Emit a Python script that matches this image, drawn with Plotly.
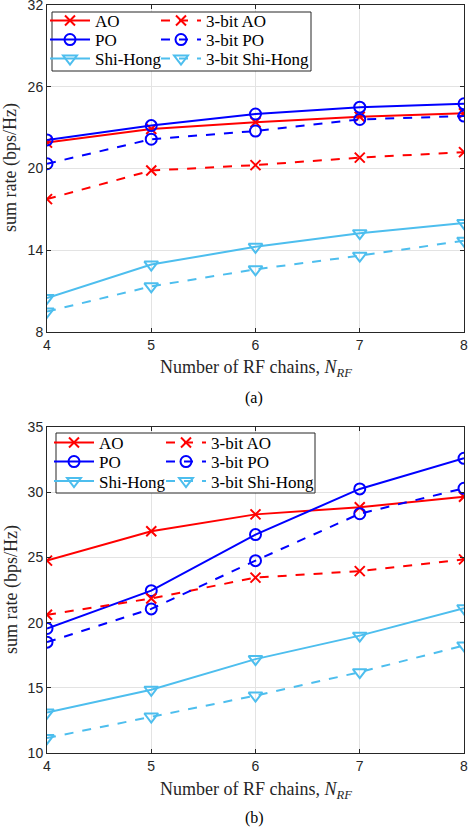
import plotly.graph_objects as go

# Data
n_rf = [4, 5, 6, 7, 8]

# (a)
ao_a = [21.9, 22.9, 23.4, 23.8, 24.05]
po_a = [22.1, 23.15, 24.0, 24.5, 24.75]
sh_a = [10.5, 12.95, 14.25, 15.25, 16.0]
ao3_a = [17.75, 19.85, 20.25, 20.8, 21.2]
po3_a = [20.35, 22.15, 22.75, 23.6, 23.85]
sh3_a = [9.5, 11.35, 12.6, 13.6, 14.7]

# (b)
ao_b = [24.75, 27.0, 28.3, 28.85, 29.65]
po_b = [19.55, 22.45, 26.75, 30.25, 32.6]
sh_b = [13.1, 14.85, 17.2, 19.0, 21.1]
ao3_b = [20.6, 21.85, 23.45, 23.95, 24.85]
po3_b = [18.5, 21.05, 24.75, 28.35, 30.3]
sh3_b = [11.15, 12.8, 14.4, 16.2, 18.25]

yticks_a = [8, 14, 20, 26, 32]
yticks_b = [10, 15, 20, 25, 30, 35]

W, H = 474, 827
RED = "#FF0000"
BLUE = "#0000FF"
CYAN = "#4DBEEE"
SERIF = "Liberation Serif, DejaVu Serif, serif"
SANS = "Liberation Sans, Arial, sans-serif"

# plot areas in pixels: (left, right, top, bottom)
box_a = (47, 464, 5, 332)
box_b = (47, 464, 427, 753)


def px_x(p):
    return p / W


def px_y(p):
    return 1 - p / H


fig = go.Figure()

series = [
    ("AO", "x-thin", RED, "solid", 10),
    ("PO", "circle-open", BLUE, "solid", 11),
    ("Shi-Hong", "triangle-down-open", CYAN, "solid", 12),
    ("3-bit AO", "x-thin", RED, "dash", 10),
    ("3-bit PO", "circle-open", BLUE, "dash", 11),
    ("3-bit Shi-Hong", "triangle-down-open", CYAN, "dash", 12),
]

panels = [
    ("x", "y", [ao_a, po_a, sh_a, ao3_a, po3_a, sh3_a], 0),
    ("x2", "y2", [ao_b, po_b, sh_b, ao3_b, po3_b, sh3_b], 6),
]

# legend rows (pixel centres) and text starts for both columns
leg_rows = {0: [21, 40, 59], 6: [443, 462, 481.5]}
leg_cols = {0: [97, 208], 6: [101, 213]}
ITEMW = 40

leg_layout = {}
for xa, ya, data, off in panels:
    for i, ((name, sym, col, dash, size), vals) in enumerate(zip(series, data)):
        k = off + i + 1
        lname = "legend" if k == 1 else "legend%d" % k
        fig.add_trace(go.Scatter(
            x=n_rf, y=vals, name=name, mode="lines+markers",
            xaxis=xa, yaxis=ya, legend=lname,
            line=dict(color=col, width=2, dash=dash),
            marker=dict(symbol=sym, size=size, color=col,
                        line=dict(color=col, width=2)),
        ))
        row = i % 3
        c = i // 3
        leg_layout[lname] = dict(
            bgcolor="rgba(255,255,255,0)", borderwidth=0,
            font=dict(family=SERIF, size=17, color="#000000"),
            xanchor="left", yanchor="middle",
            x=px_x(leg_cols[off][c] - ITEMW - 12), y=px_y(leg_rows[off][row]),
            itemwidth=ITEMW,
        )

axis_common = dict(
    showgrid=True, gridcolor="#E3E3E3", gridwidth=1,
    showline=True, linecolor="#262626", linewidth=1, mirror="ticks",
    ticks="inside", ticklen=4, tickcolor="#262626",
    tickfont=dict(family=SANS, size=14, color="#262626"),
    ticklabeloverflow="allow",
    zeroline=False, automargin=False,
)

xtitle = "Number of RF chains, <i>N</i><sub><i>RF</i></sub>"
tfont = dict(family=SERIF, size=18, color="#262626")

fig.update_layout(
    width=W, height=H,
    margin=dict(l=0, r=0, t=0, b=0),
    paper_bgcolor="white", plot_bgcolor="white",
    showlegend=True,
    xaxis=dict(axis_common, domain=[px_x(box_a[0]), px_x(box_a[1])], range=[4, 8],
               tickvals=n_rf, anchor="y"),
    yaxis=dict(axis_common, domain=[px_y(box_a[3]), px_y(box_a[2])], range=[8, 32],
               tickvals=yticks_a, anchor="x"),
    xaxis2=dict(axis_common, domain=[px_x(box_b[0]), px_x(box_b[1])], range=[4, 8],
                tickvals=n_rf, anchor="y2"),
    yaxis2=dict(axis_common, domain=[px_y(box_b[3]), px_y(box_b[2])], range=[10, 35],
                tickvals=yticks_b, anchor="x2"),
    **leg_layout,
)

# legend frames (white fill hides the grid behind the legend)
for x0, x1, y0, y1 in [(52, 311, 12, 71), (56, 315, 433, 493)]:
    fig.add_shape(type="rect", xref="paper", yref="paper",
                  x0=px_x(x0), x1=px_x(x1), y0=px_y(y1), y1=px_y(y0),
                  line=dict(color="#262626", width=1),
                  fillcolor="white", layer="above")

# axis titles and captions
for ty, ycent, cap, capy in [(368, 168, "(a)", 398), (790, 590, "(b)", 818)]:
    fig.add_annotation(text=xtitle, xref="paper", yref="paper",
                       x=px_x(256), y=px_y(ty), showarrow=False, font=tfont,
                       xanchor="center", yanchor="middle")
    fig.add_annotation(text="sum rate (bps/Hz)", xref="paper", yref="paper",
                       x=px_x(11), y=px_y(ycent), showarrow=False, textangle=-90,
                       font=tfont, xanchor="center", yanchor="middle")
    fig.add_annotation(text=cap, xref="paper", yref="paper",
                       x=px_x(254), y=px_y(capy), showarrow=False,
                       font=dict(family=SERIF, size=16, color="#000000"),
                       xanchor="center", yanchor="middle")

# page has a default 8px body margin; drop it so the figure fills the window
fig.write_html("out.html", config={"displayModeBar": False},
               post_script="document.body.style.margin = '0';")
